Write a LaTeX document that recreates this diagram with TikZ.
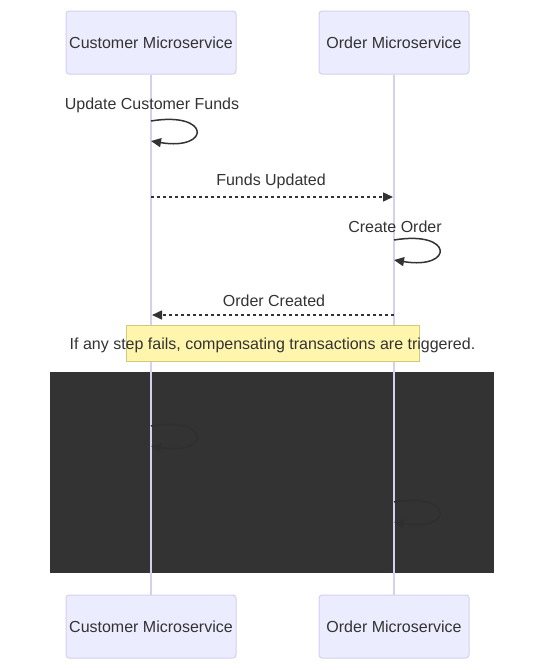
\documentclass[tikz,border=0pt]{standalone}
\usepackage{fontspec}
\setmainfont{Liberation Sans}
\usetikzlibrary{arrows.meta}
\definecolor{actorfill}{HTML}{ECECFF}
\definecolor{actorline}{HTML}{D3D0F0}
\definecolor{lifec}{HTML}{D3D0F0}
\definecolor{textc}{HTML}{333333}
\definecolor{notefill}{HTML}{FFF5AD}
\definecolor{noteline}{HTML}{D2C97A}
\definecolor{darkc}{HTML}{333333}
\definecolor{hiddenc}{HTML}{2F2F2F}
\begin{document}
\begin{tikzpicture}[x=1pt,y=-1pt,
  actorbox/.style={draw=actorline, fill=actorfill, rounded corners=3pt, line width=1pt,
    minimum height=63pt, inner sep=0pt, text=textc, font=\fontsize{16}{19}\selectfont},
  lifeline/.style={draw=lifec, line width=1.6pt},
  lbl/.style={text=textc, font=\fontsize{16}{19}\selectfont, inner sep=0pt},
  msg/.style={draw=textc, line width=1.5pt, -{Triangle[length=10pt,width=9pt]}},
  dotmsg/.style={msg, dash pattern=on 3pt off 3pt},
  hidmsg/.style={draw=hiddenc, line width=1.5pt, -{Triangle[length=10pt,width=9pt]}},
  notebox/.style={draw=noteline, fill=notefill, line width=1pt, inner sep=0pt},
  darkbox/.style={fill=darkc, inner sep=0pt}
]
\useasboundingbox (0,0) rectangle (545,670);

% dark background block
\node[darkbox, minimum width=444pt, minimum height=201pt] (alt) at (272,472.5) {};

% actors
\node[actorbox, minimum width=170pt] (ct) at (151,42.5) {Customer Microservice};
\node[actorbox, minimum width=150pt] (ot) at (394,42.5) {Order Microservice};
\node[actorbox, minimum width=170pt] (cb) at (151,626.5) {Customer Microservice};
\node[actorbox, minimum width=150pt] (ob) at (394,626.5) {Order Microservice};

% lifelines
\draw[lifeline] (ct.south) -- (cb.north);
\draw[lifeline] (ot.south) -- (ob.north);

% self message 1
\node[lbl] (m1) at (152,105) {Update Customer Funds};
\coordinate (l1s) at (151,121);
\coordinate (l1e) at (151,141);
\draw[msg] (l1s) .. controls +(60,-10) and +(60,10) .. (l1e);

% message 2
\node[lbl] (m2) at (271,181) {Funds Updated};
\coordinate (m2s) at (151,197);
\coordinate (m2e) at (393,197);
\draw[dotmsg] (m2s) -- (m2e);

% self message 3
\node[lbl] (m3) at (395,227) {Create Order};
\coordinate (l3s) at (394,240);
\coordinate (l3e) at (394,260);
\draw[msg] (l3s) .. controls +(60,-10) and +(60,10) .. (l3e);

% message 4
\node[lbl] (m4) at (274,301) {Order Created};
\coordinate (m4s) at (394,315);
\coordinate (m4e) at (152,315);
\draw[dotmsg] (m4s) -- (m4e);

% note
\node[notebox, minimum width=293pt, minimum height=36pt] (note) at (272.5,343) {};
\node[lbl] (notetext) at (272.5,345) {If any step fails, compensating transactions are triggered.};

% barely visible loops inside the dark block
\coordinate (h1s) at (151,426);
\coordinate (h1e) at (151,446);
\draw[hidmsg] (h1s) .. controls +(60,-10) and +(60,10) .. (h1e);
\coordinate (h2s) at (394,502);
\coordinate (h2e) at (394,522);
\draw[hidmsg] (h2s) .. controls +(60,-10) and +(60,10) .. (h2e);
\end{tikzpicture}
\end{document}
